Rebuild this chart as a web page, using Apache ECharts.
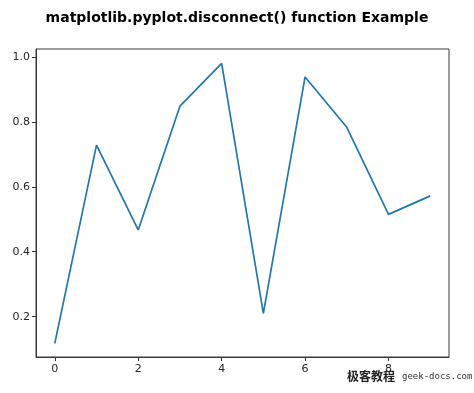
<!DOCTYPE html>
<html>
<head>
    <title>disconnect example</title>
    <meta charset="utf-8">
    <script type="text/javascript" src="https://cdn.jsdelivr.net/npm/echarts@6/dist/echarts.min.js"></script>
</head>
<body style="margin:0; background:#fff;">
    <div id="chart" style="width:474px; height:393px;"></div>
    <script>
        // values
        const xs = [0, 1, 2, 3, 4, 5, 6, 7, 8, 9];
        const ys = [0.118, 0.728, 0.467, 0.848, 0.980, 0.210, 0.938, 0.783, 0.515, 0.572];
        const xTicks = [0, 2, 4, 6, 8];
        const yTicks = [0.2, 0.4, 0.6, 0.8, 1.0];

        const chart = echarts.init(document.getElementById('chart'));
        const dejavu = '"DejaVu Sans", Verdana, sans-serif';
        const tickFont = { fontFamily: dejavu, fontSize: 11, color: '#262626' };
        const edge = { show: true, onZero: false, lineStyle: { color: '#3a3a3a', width: 1 } };

        chart.setOption({
            animation: false,
            title: {
                text: 'matplotlib.pyplot.disconnect() function Example',
                left: 'center',
                top: 6,
                textStyle: { fontFamily: dejavu, fontWeight: 'bold', fontSize: 14, color: '#000' }
            },
            grid: {
                left: 36, right: 25, top: 49, bottom: 36,
                outerBoundsMode: 'none',
                show: true, borderColor: '#3a3a3a', borderWidth: 1
            },
            xAxis: {
                type: 'value', min: -0.45, max: 9.45,
                splitLine: { show: false },
                axisLine: edge,
                axisTick: { show: true, inside: false, length: 4, lineStyle: { color: '#333' }, customValues: xTicks },
                axisLabel: Object.assign({ customValues: xTicks, margin: 7 }, tickFont)
            },
            yAxis: {
                type: 'value', min: 0.076, max: 1.024,
                splitLine: { show: false },
                axisLine: edge,
                axisTick: { show: true, inside: false, length: 4, lineStyle: { color: '#333' }, customValues: yTicks },
                axisLabel: Object.assign({ customValues: yTicks, margin: 6, formatter: v => v.toFixed(1) }, tickFont)
            },
            series: [{
                type: 'line',
                data: xs.map((x, i) => [x, ys[i]]),
                showSymbol: false,
                lineStyle: { color: '#1f77b4', width: 1.7 }
            }],
            graphic: [{
                type: 'text', left: 347, top: 370,
                style: {
                    text: '极客教程',
                    fontFamily: '"Noto Sans CJK SC"', fontSize: 12, fontWeight: 'bold', fill: '#222'
                }
            }, {
                type: 'text', left: 402, top: 372,
                style: {
                    text: 'geek-docs.com',
                    fontFamily: '"DejaVu Sans Mono", monospace', fontSize: 9, fill: '#333'
                }
            }]
        });
    </script>
</body>
</html>
